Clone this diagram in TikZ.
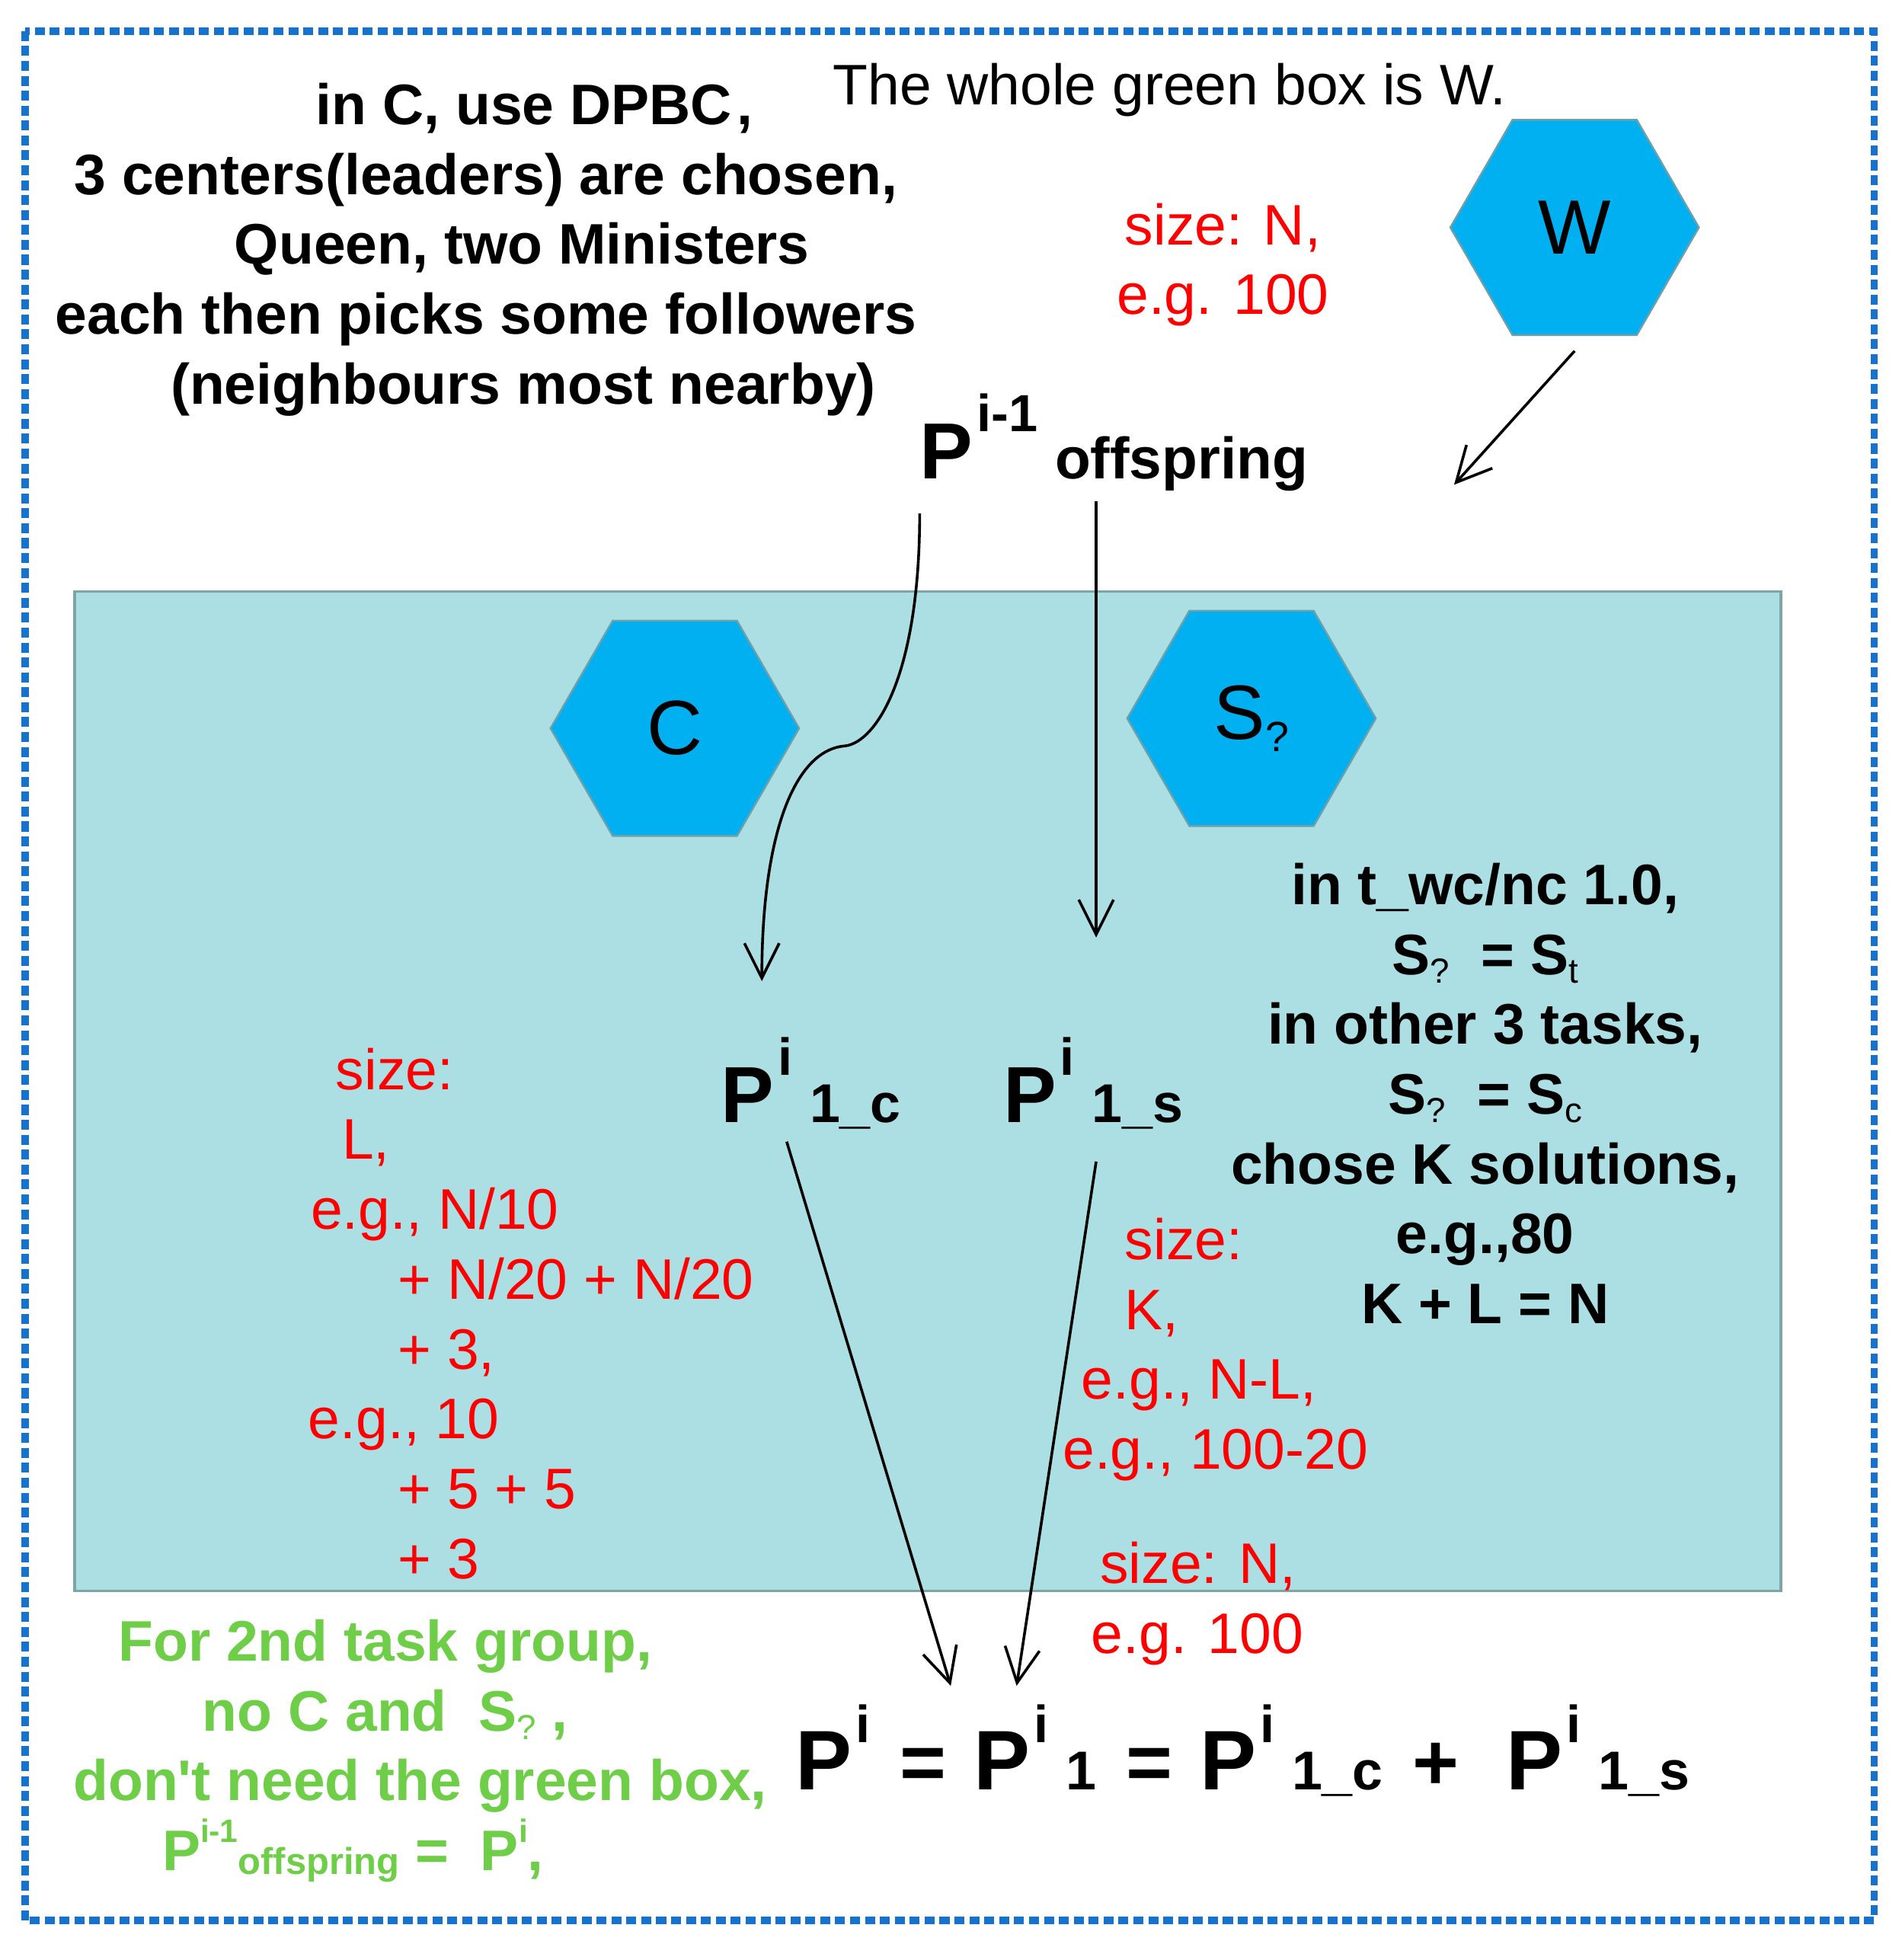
\documentclass[tikz,border=0pt]{standalone}
\usepackage{fontspec}
\setmainfont{Liberation Sans}
\usetikzlibrary{shapes.geometric,arrows.meta}

\definecolor{frameblue}{RGB}{23,114,203}
\definecolor{boxfill}{RGB}{172,223,227}
\definecolor{boxedge}{RGB}{125,165,168}
\definecolor{hexblue}{RGB}{0,176,240}
\definecolor{hexedge}{RGB}{110,160,172}
\definecolor{notegreen}{RGB}{110,206,72}

\newcommand{\Psup}[2][64]{{\fontsize{#1}{#1}\selectfont P}\hspace{3pt}\raisebox{38pt}{\fontsize{42}{42}\selectfont #2}}
\newcommand{\Psub}[2][44]{\hspace{14pt}{\fontsize{#1}{#1}\selectfont #2}}
\newcommand{\subq}[1]{\raisebox{-7pt}{\fontsize{28}{28}\selectfont\mdseries #1}}

\begin{document}
\begin{tikzpicture}[x=1pt,y=-1pt,
    txt/.style={inner sep=0pt, font=\fontsize{46}{56.2}\selectfont},
    bold/.style={inner sep=0pt, font=\fontsize{46}{56.2}\selectfont\bfseries},
    hexa/.style={regular polygon, regular polygon sides=6, minimum size=200pt,
        inner sep=0pt, fill=hexblue, draw=hexedge, line width=1.5pt,
        font=\fontsize{62}{62}\selectfont},
    arr/.style={line width=2.2pt, -{Straight Barb[length=28pt,width=28pt]}}]
    \useasboundingbox (0,0) rectangle (1530,1577);

    % dotted frame and the green box
    \draw[frameblue, line width=6pt, dash pattern=on 8pt off 4pt] (20,25) rectangle (1508,1545);
    \draw[fill=boxfill, draw=boxedge, line width=2pt] (60,476) rectangle (1433,1280);

    \node[hexa] (W) at (1267,183) {W};
    \node[hexa] (C) at (543,586) {C};
    \node[hexa] (S) at (1007,578) {S\raisebox{-10pt}{\fontsize{34}{34}\selectfont ?}};

    \node[bold, align=center, anchor=base] (intro) at (391,325)
        {\hspace*{78pt}in C, use DPBC\hspace{4pt},\\
         3 centers(leaders) are chosen,\\
         \hspace*{58pt}Queen, two Ministers\\
         each then picks some followers\\
         \hspace*{60pt}(neighbours most nearby)};
    \node[txt, anchor=base west] (title) at (670,84) {The whole green box is W.};
    \node[txt, red, align=center, anchor=base] (sizeW) at (984,253) {size: N,\\e.g. 100};

    \node[bold, anchor=base west] (Pprev) at (740,385) {\Psup{i-1}\Psub[47]{offspring}};
    \coordinate (wtip) at (1170,390);

    \node[bold, anchor=base west] (P1c) at (580,903) {\Psup{i}\Psub{1\_c}};
    \node[bold, anchor=base west] (P1s) at (807,903) {\Psup{i}\Psub{1\_s}};

    \node[bold, align=center, anchor=base] (rule) at (1195,1065)
        {in t\_wc/nc 1.0,\\
         S\subq{?}\ \ = S\subq{t}\\
         in other 3 tasks,\\
         S\subq{?}\ \ = S\subq{c}\\
         chose K solutions,\\
         e.g.,80\\
         K + L = N};

    \node[txt, red, align=left, anchor=base west] (sizeC) at (248,1270)
        {\hspace*{22pt}size:\\
         \hspace*{27pt}L,\\
         \hspace*{2pt}e.g., N/10\\
         \hspace*{72pt}+ N/20 + N/20\\
         \hspace*{72pt}+ 3,\\
         e.g., 10\\
         \hspace*{72pt}+ 5 + 5\\
         \hspace*{72pt}+ 3};
    \node[txt, red, align=left, anchor=base west] (sizeS) at (855,1182)
        {\hspace*{50pt}size:\\
         \hspace*{50pt}K,\\
         \hspace*{15pt}e.g., N-L,\\
         e.g., 100-20};
    \node[txt, red, align=left, anchor=base west] (sizeP) at (878,1330)
        {\hspace*{7pt}size: N,\\e.g. 100};

    \node[bold, notegreen, align=center, anchor=base] (note) at (310,1505)
        {For 2nd task group,\\
         no C and \ S\subq{?} ,\\
         \hspace*{56pt}don\textquotesingle t need the green box,\\
         P\raisebox{23pt}{\fontsize{26}{26}\selectfont i-1}\raisebox{-3pt}{\fontsize{30}{30}\selectfont offspring} = \ P\raisebox{23pt}{\fontsize{26}{26}\selectfont i},\hspace*{52pt}};

    \node[bold, anchor=base west] (Pall) at (640,1440)
        {\Psup[68]{i}\hspace{24pt}{\fontsize{64}{64}\selectfont =}\hspace{22pt}\Psup[68]{i}\Psub[44]{1}%
         \hspace{24pt}{\fontsize{64}{64}\selectfont =}\hspace{22pt}\Psup[68]{i}\Psub{1\_c}%
         \hspace{24pt}{\fontsize{64}{64}\selectfont +}\hspace{38pt}\Psup[68]{i}\Psub{1\_s}};

    % connectors
    \draw[arr] ([yshift=-12pt]W.south) -- (wtip);
    \draw[arr] ([yshift=-18pt]Pprev.south west) .. controls +(0,130) and +(25,-3) .. ++(-60,187)
        .. controls +(-40,3) and +(0,-120) .. ([xshift=33pt,yshift=45pt]P1c.north west);
    \draw[arr] ([xshift=142pt,yshift=-8pt]Pprev.south west) -- ([xshift=75pt,yshift=80pt]P1s.north west);
    \draw[arr] ([xshift=53pt,yshift=-10pt]P1c.south west) -- ([xshift=125pt,yshift=15pt]Pall.north west);
    \draw[arr] ([xshift=75pt,yshift=-26pt]P1s.south west) -- ([xshift=178pt,yshift=15pt]Pall.north west);
\end{tikzpicture}
\end{document}
